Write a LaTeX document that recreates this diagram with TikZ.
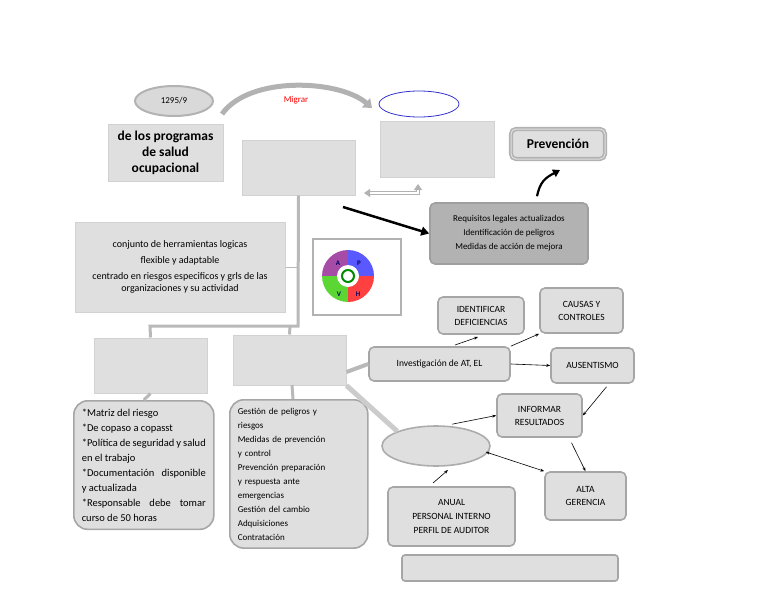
\documentclass[tikz,border=0pt]{standalone}
\usepackage{fontspec}
\setmainfont{Carlito}
\usetikzlibrary{arrows.meta,shapes.geometric}
\begin{document}
\begin{tikzpicture}[x=1pt,y=-1pt,
  gbox/.style={draw=gray!35,fill=gray!25,line width=1pt},
  rbox/.style={draw=gray!70,fill=gray!25,line width=1.6pt,rounded corners=5pt,align=center,font=\fontsize{9.5}{13}\selectfont},
  conn/.style={draw=gray!55,line width=3pt},
  thin/.style={-{Stealth[length=4pt]},line width=0.6pt}]
\useasboundingbox (0,0) rectangle (768,594);
% top
\node[ellipse,draw=gray!60,fill=gray!30,line width=2pt,minimum width=78,minimum height=30,font=\fontsize{9}{10}\selectfont] (e1) at (174,101) {1295/9};
\node[ellipse,draw=blue!60!gray,line width=0.8pt,minimum width=80,minimum height=26] (e2) at (419,104) {};
\coordinate (ma) at (222,114); \coordinate (mb) at (372,108);
\draw[gray!60,line width=5pt,-{Triangle[length=8pt,width=12pt]}] (ma) .. controls (250,75) and (340,80) .. (mb);
\node[text=red,font=\fontsize{9}{10}\selectfont] (mig) at (296,100) {Migrar};
\node[gbox,minimum width=115,minimum height=57,align=center,font=\bfseries\fontsize{13.5}{16}\selectfont] (prog) at (165.5,152.5) {de los programas\\de salud\\ocupacional};
\node[gbox,minimum width=113,minimum height=55] (b1) at (298.5,167.5) {};
\node[gbox,minimum width=114,minimum height=56] (b2) at (437,149) {};
\node[rbox,double=gray!25,draw=gray!60,double distance=1pt,minimum width=94,minimum height=30,font=\bfseries\fontsize{13.5}{15}\selectfont] (prev) at (558,144) {Prevención};
\node[rbox,fill=gray!60,draw=gray!75,minimum width=158,minimum height=61,font=\fontsize{9}{14}\selectfont] (req) at (509,233.5) {Requisitos legales actualizados\\Identificación de peligros\\Medidas de acción de mejora};
\draw[line width=2.2pt,-{Triangle[length=7pt,width=8pt]}] (req.north) ++(28,-6) coordinate (ra) .. controls (540,182) and (545,178) .. (560,170) coordinate (rb);
\draw[line width=2.5pt,-{Triangle[length=8pt,width=9pt]}] (343,207) coordinate (ba) -- (req.west);
\draw[gray!60,double=white,line width=1pt,double distance=2pt,{Triangle[length=6pt,width=8pt]}-{Triangle[length=6pt,width=8pt]}] (364,193) coordinate (da) -- (418,193) -- (418,184) coordinate (db);
% text box
\node[gbox,minimum width=210,minimum height=90,align=center,font=\fontsize{10}{16}\selectfont] (tb) at (180,267) {conjunto de herramientas logicas\\flexible  y adaptable\\centrado en riesgos especificos y grls de las\\[-4pt]organizaciones y su actividad};
% PDCA
\node[draw=gray!60,fill=white,line width=2pt,minimum width=88,minimum height=76] (pdca) at (357,277) {};
\begin{scope}
\clip (348,276) circle (26);
\fill[violet!70] (322,250) rectangle (348,276);
\fill[blue!65] (348,250) rectangle (374,276);
\fill[green!60!olive!80] (322,276) rectangle (348,302);
\fill[red!75] (348,276) rectangle (374,302);
\end{scope}
\fill[white] (348,276) circle (11);
\draw[green!55!black,line width=2pt] (348,276) circle (6);
\node[font=\bfseries\fontsize{7}{7}\selectfont,text=blue!40!black] at (338,263) {A};
\node[font=\bfseries\fontsize{7}{7}\selectfont,text=blue!40!black] at (359,263) {P};
\node[font=\bfseries\fontsize{7}{7}\selectfont,text=blue!40!black] at (339,294) {V};
\node[font=\bfseries\fontsize{7}{7}\selectfont,text=blue!40!black] at (358,294) {H};
% tree connectors
\node[gbox,minimum width=113,minimum height=55] (b3) at (150.5,365.5) {};
\node[gbox,minimum width=113,minimum height=50] (b4) at (289.5,360) {};
\draw[conn] (b1.south) -- (298,326) -- (150,326) -- (b3.north);
\draw[conn] (290,326) -- (b4.north);
\draw[draw=gray!55,line width=1pt] (tb.east) -- (298,267);
% lists
\node[rbox,rounded corners=14pt,text width=124,align=justify,font=\fontsize{10.5}{15}\selectfont,anchor=north west,inner sep=8pt] (l1) at (73,400) {\hyphenpenalty=10000 *Matriz del riesgo\\[0pt]*De copaso a copasst\\[0pt]*Política de seguridad y salud en el trabajo\\[0pt]*Documentación disponible y actualizada\\[0pt]*Responsable debe tomar curso de 50 horas\par};
\node[rbox,rounded corners=14pt,text width=122,align=left,font=\fontsize{9}{14}\selectfont,anchor=north west,inner sep=8pt] (l2) at (229,399) {Gestión de peligros y\\riesgos\\Medidas de prevención\\y control\\Prevención preparación\\y respuesta ante\\emergencias\\Gestión del cambio\\Adquisiciones\\Contratación\\[2pt]};
\draw[conn] (b3.south) -- (l1.north);
\draw[conn] (292,385) -- (293,399);
% right side
\node[rbox,minimum width=141,minimum height=34] (inv) at (439.5,364) {Investigación de AT, EL};
\node[rbox,minimum width=86,minimum height=37] (ide) at (481,315.5) {IDENTIFICAR\\DEFICIENCIAS};
\node[rbox,minimum width=83,minimum height=45] (cau) at (581.5,310.5) {CAUSAS Y\\CONTROLES};
\node[rbox,minimum width=83,minimum height=35] (aus) at (592.5,365.5) {AUSENTISMO};
\node[rbox,minimum width=85,minimum height=43] (inf) at (539.5,415.5) {INFORMAR\\RESULTADOS};
\node[ellipse,draw=gray!65,fill=gray!25,line width=1.6pt,minimum width=108,minimum height=40] (el) at (436,446) {};
\node[rbox,minimum width=81,minimum height=48] (alta) at (585.5,496) {ALTA\\GERENCIA};
\node[rbox,minimum width=127,minimum height=59,font=\fontsize{9.5}{14}\selectfont] (anu) at (451.5,516.5) {ANUAL\\PERSONAL INTERNO\\PERFIL DE AUDITOR};
\node[rbox,rounded corners=3pt,minimum width=216,minimum height=26] (bot) at (510,568) {};
\draw[conn,line width=4pt] (b4.east|-inv.west) ++(0,8) -- (inv.west);
\draw[conn,line width=5pt,gray!40] (b4.south east) -- (el.north west);
\draw[thin] (455,345) -- (478,337);
\draw[thin] (inv.north east) -- (cau.south west);
\draw[thin] (inv.east) -- (aus.west);
\draw[thin] (aus.south) ++(14,3) -- (inf.east);
\draw[thin] (el.north) ++(16,-1) -- (inf.west);
\draw[thin] (inf.south) ++(32,5) -- (alta.north);
\draw[{Stealth[length=4pt]}-{Stealth[length=4pt]},line width=0.6pt] (el.east) ++(-5,6) -- (alta.north west);
\draw[thin] (433,483) -- (448,470);
\end{tikzpicture}
\end{document}
